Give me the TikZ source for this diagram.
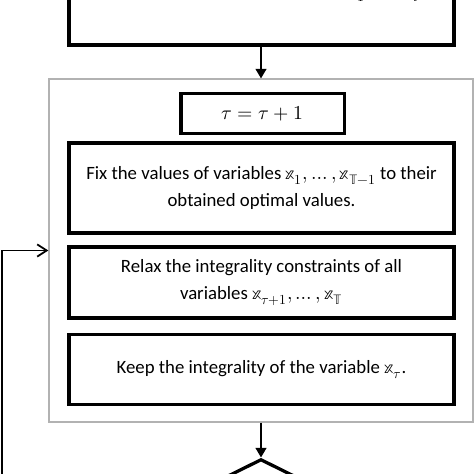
\documentclass[tikz,border=0pt]{standalone}
\usepackage{fontspec}
\usepackage{unicode-math}
\setmainfont{Carlito}
\setmathfont{Latin Modern Math}[Scale=1.05]
\usetikzlibrary{arrows.meta, positioning, shapes.geometric}

\begin{document}
\begin{tikzpicture}[x=0.735pt, y=-0.735pt,
    box/.style={draw, line width=2.4pt, align=center, inner sep=0pt,
        font=\fontsize{13.8}{20}\selectfont},
    widebox/.style={box, minimum width=283pt},
    frame/.style={draw=gray!60, line width=1pt, minimum width=311.6pt, minimum height=252pt, inner sep=0pt},
    flow/.style={line width=1pt, -{Triangle[length=7pt, width=8pt]}},
    back/.style={line width=1.3pt, -{Straight Barb[length=7pt, width=9pt]}},
    test/.style={draw, diamond, line width=2.4pt, aspect=2, minimum width=88pt, minimum height=44pt, inner sep=0pt}]
    \clip (0,0) rectangle (474,474);

    % 上一步
    \node[widebox, minimum height=77pt] (prev) at (261.5,-7.5)
        {Keep the integrality of variables $\mathbb{x}_1, \dots, \mathbb{x}_{\mathbb{T}}$};

    % 外框
    \node[frame] (container) at (261,250.5) {};

    % 框内步骤
    \node[box, minimum width=120pt, minimum height=29pt] (inc) at (262.5,113.5) {$\tau = \tau + 1$};
    \node[widebox, minimum height=66pt] (fix) at (261.5,188)
        {Fix the values of variables $\mathbb{x}_1, \dots, \mathbb{x}_{\mathbb{T}-1}$ to their\\obtained optimal values.};
    \node[widebox, minimum height=52pt] (relax) at (261.5,282.5)
        {Relax the integrality constraints of all\\variables $\mathbb{x}_{\tau+1}, \dots, \mathbb{x}_{\mathbb{T}}$};
    \node[widebox, minimum height=51pt] (keep) at (261.5,369.5)
        {Keep the integrality of the variable $\mathbb{x}_{\tau}$.};

    % 判断
    \node[test] (check) at (261,489) {};

    % 连线
    \draw[flow] (prev.south -| container.north) -- (container.north);
    \draw[flow] (container.south) -- (check.north);
    \coordinate (loopstart) at (2,520);
    \draw[back] (loopstart) |- (container.west);
\end{tikzpicture}
\end{document}
